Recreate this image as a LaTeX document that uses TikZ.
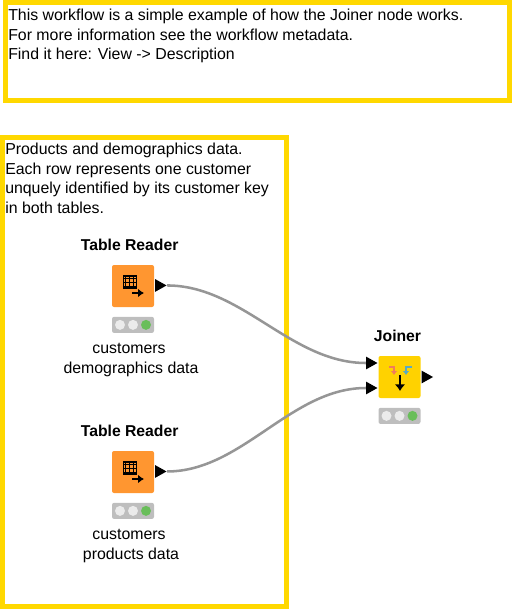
\documentclass[tikz,border=0pt]{standalone}
\usepackage{fontspec}
\setmainfont{Liberation Sans}
\usepackage{xcolor}
\usetikzlibrary{arrows.meta,positioning,shapes.geometric}
\definecolor{noteyellow}{RGB}{255,216,0}
\definecolor{readerorange}{RGB}{255,150,48}
\definecolor{joineryellow}{RGB}{255,210,0}
\definecolor{lampgray}{RGB}{190,190,190}
\definecolor{lampoff}{RGB}{235,235,235}
\definecolor{lampgreen}{RGB}{105,190,90}
\definecolor{edgegray}{RGB}{150,150,150}
\definecolor{joinred}{RGB}{240,125,90}
\definecolor{joinblue}{RGB}{90,170,195}
\tikzset{
  notetext/.style={anchor=north west,align=left,inner sep=0pt,font=\fontsize{11.9}{14.9}\selectfont},
  nodebox/.style={rounded corners=1.5pt,minimum width=31.5pt,minimum height=31.5pt,inner sep=0pt},
  lampbar/.style={fill=lampgray,rounded corners=1.5pt,minimum width=31.5pt,minimum height=12pt,inner sep=0pt},
  lamp/.style={circle,minimum size=7.5pt,inner sep=0pt},
  portmark/.style={isosceles triangle,isosceles triangle apex angle=60,isosceles triangle stretches,fill=black,minimum width=9.5pt,minimum height=8.5pt,inner sep=0pt},
  title/.style={font=\fontsize{11.8}{14}\selectfont\bfseries},
  caption/.style={align=center,font=\fontsize{11.9}{14.8}\selectfont},
  edge/.style={draw=edgegray,line width=1.9pt}
}
\begin{document}
\begin{tikzpicture}[x=0.75pt,y=-0.75pt]
  \useasboundingbox (0,0) rectangle (512,609);
  % annotations
  \draw[noteyellow,line width=3.75pt] (5.5,2.5) rectangle (509.5,101);
  \draw[noteyellow,line width=3.75pt] (2.5,137.5) rectangle (286.5,606.5);
  \node[notetext] (intro) at (8,8.5) {This workflow is a simple example of how the Joiner node works.\\For more information see the workflow metadata.\\Find it here: View -> Description};
  \node[notetext] (info) at (5,142.5) {Products and demographics data.\\Each row represents one customer\\unquely identified by its customer key\\in both tables.};
  % first reader
  \node[nodebox,fill=readerorange] (demo) at (133,286) {};
  \node[title,above=7.25pt of demo.north,xshift=-2.5pt] (demotitle) {Table Reader};
  \node[portmark,right=0.5pt of demo.east,yshift=0.4pt] (demoout) {};
  \node[lampbar,below=7pt of demo.south] (demobar) {};
  \node[lamp,fill=lampoff] at ([xshift=-9.75pt]demobar.center) (demoa) {};
  \node[lamp,fill=lampoff] at (demobar.center) (demob) {};
  \node[lamp,fill=lampgreen] at ([xshift=9.75pt]demobar.center) (democ) {};
  \node[caption,below=4pt of demobar.south,xshift=-1.5pt] (democap) {customers\hspace*{3pt}\\demographics data};
  % second reader
  \node[nodebox,fill=readerorange] (prod) at (133,472) {};
  \node[title,above=7.25pt of prod.north,xshift=-2.5pt] (prodtitle) {Table Reader};
  \node[portmark,right=0.5pt of prod.east,yshift=0.4pt] (prodout) {};
  \node[lampbar,below=7pt of prod.south] (prodbar) {};
  \node[lamp,fill=lampoff] at ([xshift=-9.75pt]prodbar.center) (proda) {};
  \node[lamp,fill=lampoff] at (prodbar.center) (prodb) {};
  \node[lamp,fill=lampgreen] at ([xshift=9.75pt]prodbar.center) (prodc) {};
  \node[caption,below=4pt of prodbar.south,xshift=-1.5pt] (prodcap) {customers\hspace*{3pt}\\products data};
  % joiner
  \node[nodebox,fill=joineryellow] (join) at (399.5,377) {};
  \node[title,above=7.25pt of join.north,xshift=-1.5pt] (jointitle) {Joiner};
  \node[portmark,anchor=west] (joinout) at ([xshift=0.5pt]join.east) {};
  \node[portmark,anchor=east] (joinina) at (378,363) {};
  \node[portmark,anchor=east] (joininb) at (378,388) {};
  \node[lampbar,below=7pt of join.south] (joinbar) {};
  \node[lamp,fill=lampoff] at ([xshift=-9.75pt]joinbar.center) (joina) {};
  \node[lamp,fill=lampoff] at (joinbar.center) (joinb) {};
  \node[lamp,fill=lampgreen] at ([xshift=9.75pt]joinbar.center) (joinc) {};
  % connections
  \draw[edge] (demoout.east) .. controls +(75,0) and +(-75,0) .. (joinina.west);
  \draw[edge] (prodout.east) .. controls +(75,0) and +(-75,0) .. (joininb.west);
  % icons
  \foreach \base in {demo,prod}{
    \begin{scope}[shift={(\base.center)}]
      \draw[black,line width=0.55pt,step=3pt] (-9.5,-10) grid (3.5,2);
      \draw[black,line width=0.9pt] (-9.5,-10) rectangle (3.5,2);
      \draw[-{Latex[length=4.5pt,width=6.5pt]},black,line width=1.6pt] (-1,7) -- (11,7);
    \end{scope}
  }
  \begin{scope}[shift={(join.center)}]
    \draw[joinred,line width=1.5pt,-{Latex[length=3pt,width=5pt]}] (-10.5,-10.5) -- (-5.5,-10.5) -- (-5.5,-2);
    \draw[joinblue,line width=1.5pt,-{Latex[length=3pt,width=5pt]}] (12,-10.5) -- (6.5,-10.5) -- (6.5,-2);
    \draw[black,line width=1.8pt,-{Latex[length=5pt,width=8pt]}] (0.5,-2) -- (0.5,14);
  \end{scope}
\end{tikzpicture}
\end{document}
